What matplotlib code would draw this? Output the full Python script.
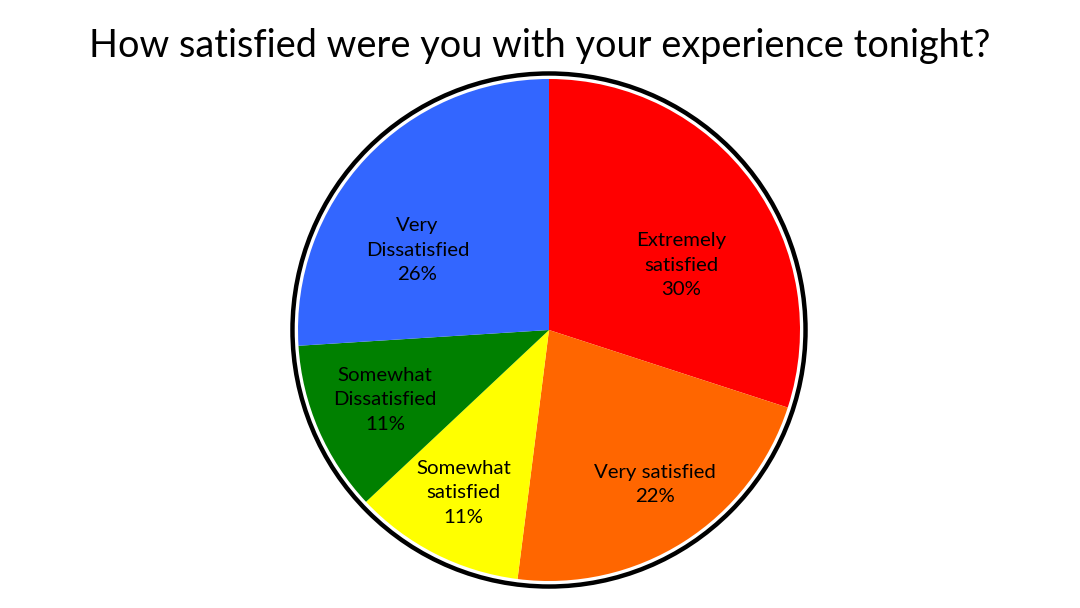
import numpy as np
import matplotlib
matplotlib.use("Agg")
from matplotlib import pyplot as plt
from matplotlib.patches import Circle

labels = ["Extremely\nsatisfied", "Very satisfied", "Somewhat\nsatisfied",
          "Somewhat\nDissatisfied", "Very\nDissatisfied"]
values = [30, 22, 11, 11, 26]
colors = ["#FF0000", "#FF6600", "#FFFF00", "#008000", "#3366FF"]

# label placement: fraction of radius and angle in degrees
label_r = [0.586, 0.745, 0.733, 0.71, 0.613]
label_ang = [26.2, -55.6, -117.7, -156.9, 148.7]

W, H = 1080, 608
cx, cy, rpx = 549, 330, 251

fig = plt.figure(figsize=(W / 100, H / 100), dpi=100)
ax = fig.add_axes([0, 0, 1, 1])

wedges, _ = ax.pie(values, colors=colors, startangle=90, counterclock=False,
                   radius=1.0, wedgeprops=dict(linewidth=0))

# pie() resets limits, so set them afterwards
ax.set_xlim(-cx / rpx, (W - cx) / rpx)
ax.set_ylim(-(H - cy) / rpx, cy / rpx)
ax.set_aspect("equal")
ax.axis("off")

# outer ring
ax.add_patch(Circle((0, 0), 1.022, fill=False, edgecolor="black", linewidth=3.2, zorder=3))

for lab, v, lr, ang in zip(labels, values, label_r, label_ang):
    a = np.deg2rad(ang)
    ax.text(lr * np.cos(a), lr * np.sin(a), f"{lab}\n{v}%", ha="center", va="center",
            fontsize=14.7, family="Lato", linespacing=1.52, color="black")

fig.text(0.5, 1 - 57 / H, "How satisfied were you with your experience tonight?",
         ha="center", va="baseline", fontsize=27.3, family="Lato")

fig.savefig("out.png", dpi=100)
